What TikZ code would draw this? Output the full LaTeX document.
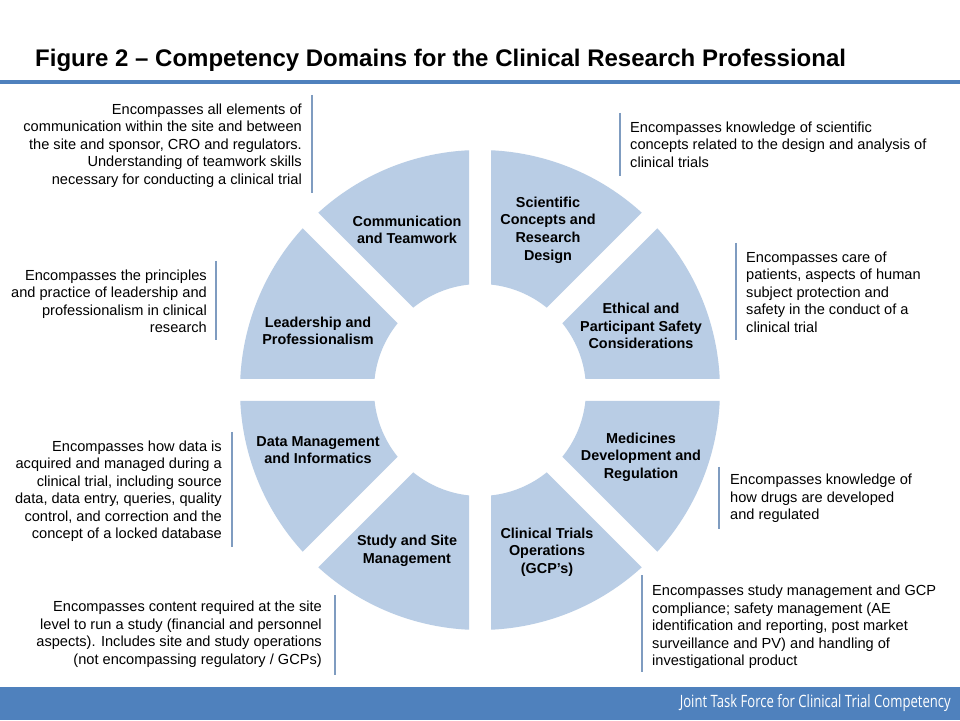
\documentclass[tikz,border=0pt]{standalone}
\usepackage{fontspec}
\usepackage{graphicx}
\setmainfont{Liberation Sans}
\newfontfamily\footfont{Open Sans}
\usetikzlibrary{calc}
\definecolor{segfill}{HTML}{B9CDE5}
\definecolor{barblue}{HTML}{4F81BD}
\definecolor{rulegray}{HTML}{7F9CC0}
\tikzset{
  seglabel/.style={font=\bfseries\fontsize{14.4}{17.6}\selectfont, align=center, inner sep=0pt, text=black},
  descr/.style={font=\fontsize{14.6}{17.5}\selectfont, inner sep=0pt, text=black},
  descl/.style={descr, align=left, anchor=west},
  descrr/.style={descr, align=right, anchor=east},
  sideline/.style={draw=rulegray, line width=1.8pt},
}
\begin{document}
\begin{tikzpicture}[x=1pt,y=1pt]
\useasboundingbox (0,0) rectangle (960,720);
\fill[white] (0,0) rectangle (960,720);
% title and rule
\node[anchor=west, inner sep=0pt, font=\bfseries\fontsize{24}{28}\selectfont] (title) at (35,660) {Figure 2 -- Competency Domains for the Clinical Research Professional};
\fill[barblue] (0,636) rectangle (960,640);
% footer bar
\fill[barblue] (0,0) rectangle (960,33);
\node[anchor=east, inner sep=0pt, text=white, font=\footfont\fontsize{17}{20}\selectfont] (foot) at (951,17) {\resizebox{271pt}{\height}{Joint Task Force for Clinical Trial Competency}};
% ring segments
\coordinate (ctr) at (480,330);
\def\Ro{240}\def\Ri{106}\def\do{2.627}\def\di{5.956}
\foreach \a in {0,45,...,315}{
  \fill[segfill] ($(ctr)+(\a+\do:\Ro)$) arc[start angle=\a+\do, end angle=\a+45-\do, radius=\Ro]
    -- ($(ctr)+(\a+45-\di:\Ri)$) arc[start angle=\a+45-\di, end angle=\a+\di, radius=\Ri] -- cycle;
}
% segment labels
\node[seglabel] (comm) at (407,490) {Communication\\and Teamwork};
\node[seglabel] (sci) at (548,490) {Scientific\\Concepts and\\Research\\Design};
\node[seglabel] (eth) at (641,394) {Ethical and\\Participant Safety\\Considerations};
\node[seglabel] (lead) at (318,389) {Leadership and\\Professionalism};
\node[seglabel] (data) at (318,270) {Data Management\\and Informatics};
\node[seglabel] (med) at (641,263) {Medicines\\Development and\\Regulation};
\node[seglabel] (study) at (407,169) {Study and Site\\Management};
\node[seglabel] (clin) at (547,168) {Clinical Trials\\Operations\\(GCP’s)};
% descriptions
\node[descrr] (dcomm) at (302,574.5) {Encompasses all elements of\\communication within the site and between\\the site and sponsor, CRO and regulators.\\Understanding of teamwork skills\\necessary for conducting a clinical trial};
\draw[sideline] (312,625) -- (312,527);
\node[descrr] (dlead) at (207,418.5) {Encompasses the principles\\and practice of leadership and\\professionalism in clinical\\research};
\draw[sideline] (216,459) -- (216,380);
\node[descl] (dsci) at (630,575.5) {Encompasses knowledge of scientific\\concepts related to the design and analysis of\\clinical trials};
\draw[sideline] (620,607) -- (620,544);
\node[descl] (deth) at (746,428) {Encompasses care of\\patients, aspects of human\\subject protection and\\safety in the conduct of a\\clinical trial};
\draw[sideline] (736,477) -- (736,380);
\node[descrr] (ddata) at (222,229) {Encompasses how data is\\acquired and managed during a\\clinical trial, including source\\data, data entry, queries, quality\\control, and correction and the\\concept of a locked database};
\draw[sideline] (232,288) -- (232,173);
\node[descrr] (dstudy) at (322,86) {Encompasses content required at the site\\level to run a study (financial and personnel\\aspects). Includes site and study operations\\(not encompassing regulatory / GCPs)};
\draw[sideline] (335,125) -- (335,45);
\node[descl] (dclin) at (652,93) {Encompasses study management and GCP\\compliance; safety management (AE\\identification and reporting, post market\\surveillance and PV) and handling of\\investigational product};
\draw[sideline] (642,145) -- (642,48);
\node[descl] (dmed) at (730,221.5) {Encompasses knowledge of\\how drugs are developed\\and regulated};
\draw[sideline] (719,253) -- (719,191);
\end{tikzpicture}
\end{document}
